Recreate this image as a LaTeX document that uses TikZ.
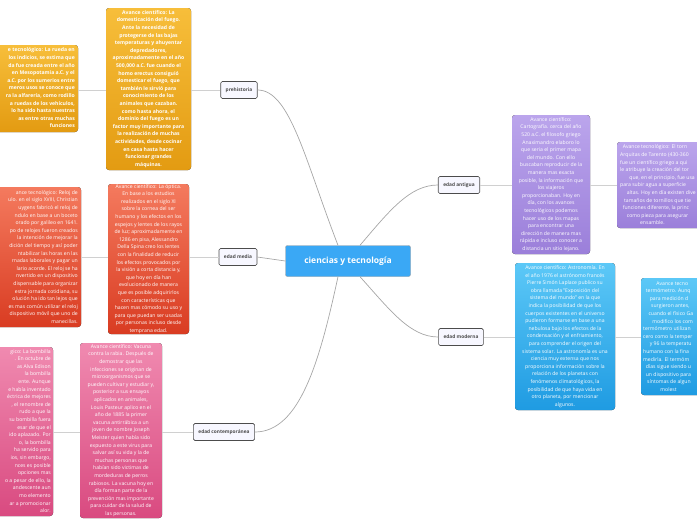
\documentclass[tikz,border=0pt]{standalone}
\usepackage{fontspec}
\setmainfont{Open Sans}
\usetikzlibrary{positioning}
\definecolor{orTop}{HTML}{F7BE3A}\definecolor{orBot}{HTML}{E39B12}
\definecolor{rdTop}{HTML}{F47A5E}\definecolor{rdBot}{HTML}{D93C22}
\definecolor{pkTop}{HTML}{F08AB0}\definecolor{pkBot}{HTML}{D94A80}
\definecolor{puTop}{HTML}{BBA5EC}\definecolor{puBot}{HTML}{9B7FDA}
\definecolor{blTop}{HTML}{5CC8F7}\definecolor{blBot}{HTML}{1F9BE2}
\definecolor{rootblue}{HTML}{3AA8F5}
\definecolor{linkgray}{HTML}{D0D0D0}
\tikzset{
  card/.style={rounded corners=3pt, top color=#1Top, bottom color=#1Bot, draw=none},
  cardtext/.style={text=white, font=\fontsize{5.1}{7.6}\selectfont, align=center, inner sep=0pt},
  era/.style={draw=black!70, line width=0.6pt, rounded corners=1.5pt, fill=blue!3, font=\fontsize{4.8}{6}\selectfont\bfseries, text=black!70, minimum height=17pt, inner xsep=5pt},
  link/.style={draw=linkgray, line width=0.9pt},
  branch/.style={draw=black!35, line width=0.7pt}
}
\begin{document}
\begin{tikzpicture}[x=1pt,y=-1pt]
	\path [use as bounding box] (0,0) rectangle (697,520);
	\clip (0,0) rectangle (697,520);
	% central topic
	\node[rounded corners=2pt, fill=rootblue, draw=black!40, minimum width=125pt, minimum height=31pt, text=white, font=\fontsize{8.5}{10}\selectfont\bfseries] (root) at (348,261) {ciencias y tecnología};
	% eras
	\node[era] (pre) at (239,90) {prehistoria};
	\node[era] (med) at (238,257) {edad media};
	\node[era] (con) at (224,432) {edad contemporánea};
	\node[era] (ant) at (459,185) {edad antigua};
	\node[era] (mod) at (461,337) {edad moderna};
	\draw[branch] (root.north) ++(-10,0) coordinate (r1) .. controls (305,160) and (290,90) .. (pre.east);
	\draw[branch] (root.west) -- (med.east);
	\draw[branch] (root.south) ++(-10,0) coordinate (r2) .. controls (320,360) and (300,432) .. (con.east);
	\draw[branch] (root.north) ++(12,0) coordinate (r3) .. controls (390,210) and (410,185) .. (ant.west);
	\draw[branch] (root.south) ++(12,0) coordinate (r4) .. controls (390,310) and (410,337) .. (mod.west);
	% cards
	\fill[card=or] (106,8) rectangle (191,170);
	\node[cardtext, font=\fontsize{5.1}{7.6}\selectfont\bfseries] (preA) at (148.5,89) {Avance científico: La\\domesticación del fuego.\\Ante la necesidad de\\protegerse de las bajas\\temperaturas y ahuyentar\\depredadores,\\aproximadamente en el año\\500,000 a.C. fue cuando el\\homo erectus consiguió\\domesticar el fuego, que\\también le sirvió para\\conocimiento de los\\animales que cazaban.\\como hasta ahora, el\\dominio del fuego es un\\factor muy importante para\\la realización de muchas\\actividades, desde cocinar\\en casa hasta hacer\\funcionar grandes\\máquinas.};
	\fill[card=or] (-20,45) rectangle (78,132);
	\node[cardtext, font=\fontsize{5.1}{7.6}\selectfont\bfseries, anchor=east, align=right] (preT) at (75,88) {e tecnológico: La rueda en\\los indicios, se estima que\\da fue creada entre el año\\en Mesopotamia a.C. y el\\a.C. por los sumerios entre\\meros usos se conoce que\\ra la alfarería, como rodillo\\a ruedas de los vehículos,\\lo ha sido hasta nuestras\\as entre otras muchas\\funciones};
	\fill[card=rd] (108,184) rectangle (189,334);
	\node[cardtext] (medA) at (148.5,259) {Avance científico: La óptica.\\En base a los estudios\\realizados en el siglo XI\\sobre la cornea del ser\\humano y los efectos en los\\espejos y lentes de los rayos\\de luz; aproximadamente en\\1286 en pisa, Alessandro\\Della Spina creo los lentes\\con la finalidad de reducir\\los efectos provocados por\\la visión a corta distancia y,\\que hoy en día han\\evolucionado de manera\\que es posible adquirirlos\\con características que\\hacen mas cómodo su uso y\\para que puedan ser usadas\\por personas incluso desde\\temprana edad.};
	\fill[card=rd] (-20,187) rectangle (81,327);
	\node[cardtext, anchor=east, align=right] (medT) at (78,257) {ance tecnológico: Reloj de\\ulo. en el siglo XVIII, Christian\\uygens fabricó el reloj de\\ndulo en base a un boceto\\orado por galileo en 1641.\\po de relojes fueron creados\\la intención de mejorar la\\dición del tiempo y así poder\\ntabilizar las horas en las\\rnadas laborales y pagar un\\lario acorde. El reloj se ha\\nvertido en un dispositivo\\dispensable para organizar\\estra jornada cotidiana, su\\olución ha ido tan lejos que\\es mas común utilizar el reloj\\dispositivo móvil que uno de\\manecillas.};
	\fill[card=pk] (80,343) rectangle (162,518);
	\node[cardtext] (conA) at (121,430.5) {Avance científico: Vacuna\\contra la rabia. Después de\\demostrar que las\\infecciones se originan de\\microorganismos que se\\pueden cultivar y estudiar y,\\posterior a sus ensayos\\aplicados en animales,\\Louis Pasteur aplico en el\\año de 1885 la primer\\vacuna antirrábica a un\\joven de nombre Joseph\\Meister quien había sido\\expuesto a este virus para\\salvar así su vida y la de\\muchas personas que\\habían sido victimas de\\mordeduras de perros\\rabiosos. La vacuna hoy en\\día forman parte de la\\prevención mas importante\\para cuidar de la salud de\\las personas.};
	\fill[card=pk] (-20,347) rectangle (53,516);
	\node[cardtext, anchor=east, align=right] (conT) at (51,431) {gico: La bombilla\\. En octubre de\\as Alva Edison\\la bombilla\\ente. Aunque\\e había inventado\\éctrica de mejores\\, el renombre de\\rudo a que la\\su bombilla fuera\\esar de que el\\ido aplazado. Por\\o, la bombilla\\ha servido para\\ios, sin embargo,\\nces es posible\\opciones mas\\o a pesar de ello, la\\andescente aun\\mo elemento\\ar a promocionar\\alor.};
	\fill[card=pu] (512,115) rectangle (590,254);
	\node[cardtext] (antA) at (551,184.5) {Avance científico:\\Cartografía. cerca del año\\520 a.C. el filosofo griego\\Anaximandro elaboro lo\\que seria el primer mapa\\del mundo. Con ello\\buscaban reproducir de la\\manera mas exacta\\posible, la información que\\los viajeros\\proporcionaban. Hoy en\\día, con los avances\\tecnológicos podemos\\hacer uso de los mapas\\para encontrar una\\dirección de manera mas\\rápida e incluso conocer a\\distancia un sitio lejano.};
	\fill[card=pu] (617,142) rectangle (720,228);
	\node[cardtext, anchor=west, align=left] (antT) at (620,185) {\ \ Avance tecnológico: El torn\\Arquitas de Tarento (430-360\\fue un científico griego a qui\\le atribuye la creación del tor\\\ \ \ \ \ \ \ que, en el principio, fue usa\\para subir agua a superficie\\\ \ \ \ \ altas. Hoy en día existen dive\\\ \ \ tamaños de tornillos que tie\\\ \ funciones diferente, la princ\\\ \ \ \ \ como pieza para asegurar\\\ \ \ \ \ \ \ \ \ \ \ \ \ \ \ ensamble.};
	\fill[card=bl] (515,263) rectangle (615,410);
	\node[cardtext] (modA) at (565,336.5) {Avance científico: Astronomía. En\\el año 1976 el astrónomo francés\\Pierre Simón Laplace publico su\\obra llamada "Exposición del\\sistema del mundo" en la que\\indica la posibilidad de que los\\cuerpos existentes en el universo\\pudieron formarse en base a una\\nebulosa bajo los efectos de la\\condensación y el enfriamiento,\\para comprender el origen del\\sistema solar. La astronomía es una\\ciencia muy extensa que nos\\proporciona información sobre la\\relación de los planetas con\\fenómenos climatológicos, la\\posibilidad de que haya vida en\\otro planeta, por mencionar\\algunos.};
	\fill[card=bl] (641,278) rectangle (720,395);
	\node[cardtext, anchor=west, align=left] (modT) at (643,336.5) {\ \ \ \ \ \ \ \ \ \ Avance tecno\\\ \ termómetro. Aunq\\\ \ \ \ \ para medición d\\\ \ \ \ \ \ surgieron antes,\\\ \ \ \ cuando el físico Ga\\\ \ \ \ \ \ \ modifico los com\\termómetro utilizan\\cero como la temper\\\ \ \ \ \ y 96 la temperatu\\humano con la fina\\medirla. El termóm\\\ \ días sigue siendo u\\\ \ un dispositivo para\\\ \ \ síntomas de algun\\\ \ \ \ \ \ \ \ \ \ \ \ \ molest};
	% era to card links
	\draw[link] (pre.west) -- (191,90);
	\draw[link] (106,90) -- (78,90);
	\draw[link] (med.west) -- (189,257);
	\draw[link] (108,257) -- (81,257);
	\draw[link] (con.west) -- (162,432);
	\draw[link] (80,432) -- (53,432);
	\draw[link] (ant.east) -- (512,185);
	\draw[link] (590,185) -- (617,185);
	\draw[link] (mod.east) -- (515,337);
	\draw[link] (615,337) -- (641,337);
\end{tikzpicture}
\end{document}
